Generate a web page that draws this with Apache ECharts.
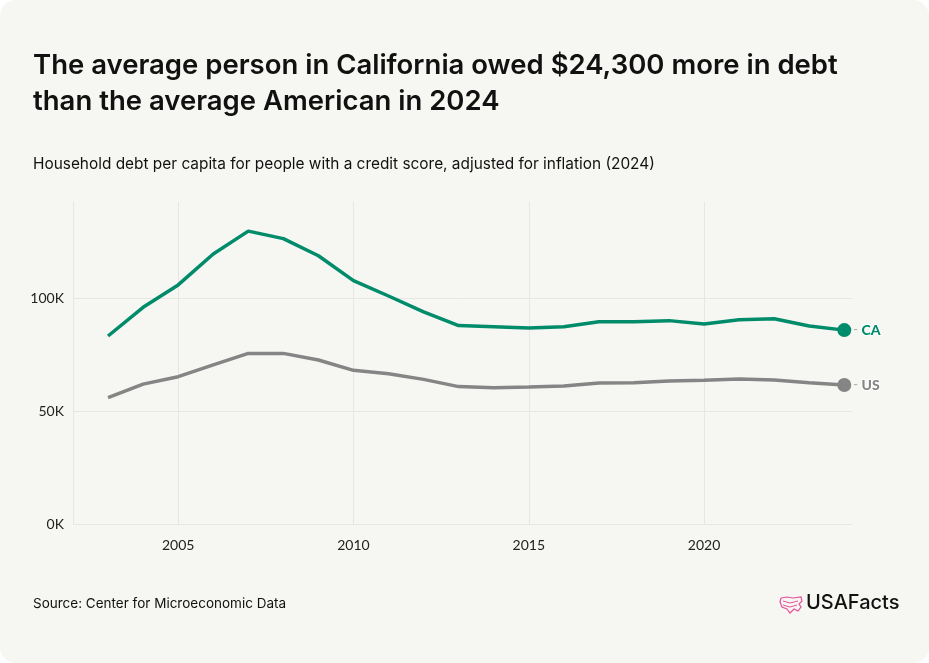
<!DOCTYPE html>
<html>
<head>
<meta charset="utf-8">
<script src="https://cdn.jsdelivr.net/npm/echarts@6/dist/echarts.min.js"></script>
<style>
  html, body { margin: 0; padding: 0; background: #ffffff; }
  #chart { width: 929px; height: 663px; background: #f6f6f2; border-radius: 16px; overflow: hidden; }
</style>
</head>
<body>
<div id="chart"></div>
<script>
// Household debt per capita (2024 dollars)
const years = [2003, 2004, 2005, 2006, 2007, 2008, 2009, 2010, 2011, 2012, 2013,
  2014, 2015, 2016, 2017, 2018, 2019, 2020, 2021, 2022, 2023, 2024];
const caDebt = [83200, 95900, 105800, 119500, 129600, 126300, 118700, 107700, 100900, 93900, 87800,
  87300, 86700, 87300, 89500, 89500, 90000, 88500, 90400, 90800, 87600, 85800];
const usDebt = [55900, 61900, 65200, 70400, 75500, 75500, 72600, 68000, 66500, 64000, 60800,
  60300, 60600, 61100, 62400, 62500, 63300, 63600, 64200, 63700, 62500, 61500];
const xTicks = [2005, 2010, 2015, 2020];

const green = "#008c6a";
const grey = "#858585";
const gridColor = "#e6e6e3";
const last = years.length - 1;

const makeSeries = (name, values, color) => ({
  name,
  type: "line",
  data: values.map((v, i) => [years[i], v]),
  symbol: "circle",
  symbolSize: (val, params) => (params.dataIndex === last ? 14 : 0),
  showSymbol: true,
  lineStyle: { color, width: 3.5 },
  itemStyle: { color },
  endLabel: {
    show: true,
    distance: 9,
    formatter: "{d|-} {n|" + name + "}",
    rich: {
      d: { color: "#aaaaaa", fontSize: 13, fontFamily: "Lato" },
      n: { color, fontSize: 14, fontWeight: 900, fontFamily: "Lato",
           textBorderColor: "#ffffff", textBorderWidth: 2 },
    },
  },
});

const chart = echarts.init(document.getElementById("chart"), null, { renderer: "canvas" });
chart.setOption({
  animation: false,
  title: [
    {
      text: "The average person in California owed $24,300 more in debt\nthan the average American in 2024",
      left: 33, top: 48, padding: 0,
      textStyle: { fontFamily: "Inter", fontWeight: 600, fontSize: 27.5, lineHeight: 36, color: "#111" },
    },
    {
      text: "Household debt per capita for people with a credit score, adjusted for inflation (2024)",
      left: 33, top: 154, padding: 0,
      textStyle: { fontFamily: "Inter", fontWeight: 400, fontSize: 15.4, lineHeight: 20, color: "#111" },
    },
    {
      text: "Source: Center for Microeconomic Data",
      left: 33, top: 595, padding: 0,
      textStyle: { fontFamily: "Inter", fontWeight: 400, fontSize: 13.5, lineHeight: 18, color: "#111" },
    },
  ],
  grid: { left: 73, right: 77, top: 202, bottom: 139, containLabel: false },
  xAxis: {
    type: "value",
    min: 2002,
    max: 2024.22,
    axisLine: { show: false },
    axisTick: { show: false, customValues: xTicks },
    axisLabel: {
      customValues: xTicks,
      margin: 14,
      color: "#222",
      fontFamily: "Lato",
      fontSize: 14,
      formatter: (v) => String(v),
    },
    splitLine: { show: true, lineStyle: { color: gridColor, width: 1 } },
  },
  yAxis: {
    type: "value",
    min: 0,
    max: 142500,
    interval: 50000,
    axisLine: { show: true, lineStyle: { color: gridColor, width: 1 } },
    axisTick: { show: false },
    axisLabel: {
      showMaxLabel: false,
      margin: 9,
      color: "#222",
      fontFamily: "Lato",
      fontSize: 14,
      formatter: (v) => v / 1000 + "K",
    },
    splitLine: { show: true, showMaxLine: false, lineStyle: { color: gridColor, width: 1 } },
  },
  series: [makeSeries("CA", caDebt, green), makeSeries("US", usDebt, grey)],
  graphic: [
    {
      type: "polyline",
      shape: {
        points: [[781, 598], [787, 597], [793, 598], [801, 597], [802, 601], [799, 604],
          [801, 607], [798, 611], [794, 609], [790, 613], [787, 609], [782, 607], [780, 602], [781, 598]],
      },
      style: { stroke: "#e8509a", fill: "none", lineWidth: 1.2 },
    },
    {
      type: "polyline",
      shape: { points: [[783, 601], [790, 603], [798, 601]] },
      style: { stroke: "#e8509a", fill: "none", lineWidth: 1 },
    },
    {
      type: "polyline",
      shape: { points: [[783, 605], [790, 607], [797, 605]] },
      style: { stroke: "#e8509a", fill: "none", lineWidth: 1 },
    },
    {
      type: "text",
      left: 806, top: 593,
      style: { text: "USAFacts", fontFamily: "Inter", fontWeight: 500, fontSize: 20, fill: "#111" },
    },
  ],
});
</script>
</body>
</html>
